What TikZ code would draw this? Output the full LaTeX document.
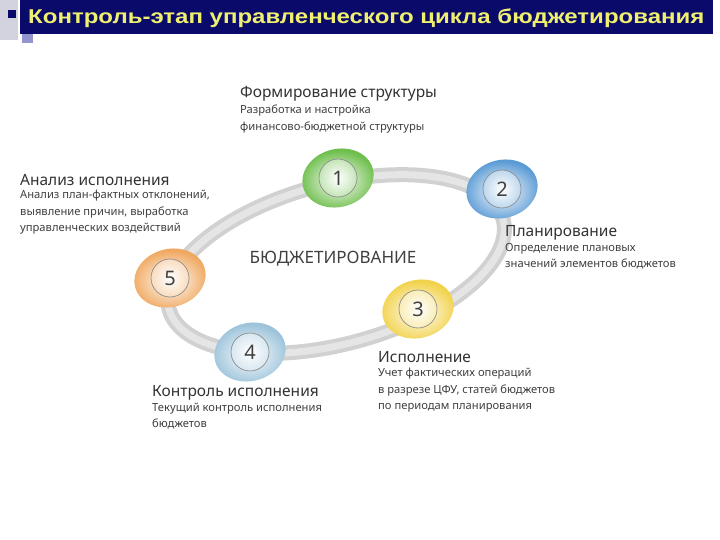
\documentclass[tikz,border=0pt]{standalone}
\usepackage{fontspec}
\setmainfont{Liberation Sans}
\newfontfamily\bodyf{Noto Sans}
\definecolor{cA}{HTML}{6DBE4B}
\definecolor{cB}{HTML}{5B9BD5}
\definecolor{cC}{HTML}{F2D24B}
\definecolor{cD}{HTML}{9CC3DA}
\definecolor{cE}{HTML}{F0A860}
\definecolor{navy}{HTML}{0A0A6A}
\definecolor{ttl}{HTML}{F0F070}
\begin{document}
\begin{tikzpicture}[x=1pt,y=-1pt,
  head/.style={anchor=west,inner sep=0,text=black!80,font=\bodyf\fontsize{15.5}{17}\selectfont},
  body/.style={anchor=north west,inner sep=0,align=left,text=black!75,font=\bodyf\fontsize{11.2}{16.5}\selectfont},
  inner/.style={circle,minimum size=38pt,draw=black!45,line width=0.7pt,font=\bodyf\fontsize{20}{20}\selectfont,text=black!75,inner sep=0}]
\useasboundingbox (0,0) rectangle (720,540);
\fill[white] (0,0) rectangle (720,540);
% title bar
\fill[blue!15!gray!30] (0,0) rectangle (18,40);
\fill[blue!40!gray!60] (22,33) rectangle (33,43);
\fill[navy] (8,10) rectangle (16,18);
\fill[navy] (20,0) rectangle (713,34);
\node[anchor=west,inner sep=0,text=ttl,font=\bfseries\fontsize{20}{20}\selectfont] (title) at (28,18) {\scalebox{1.2}[1]{Контроль-этап управленческого цикла бюджетирования}};
% ring
\draw[line width=15pt,black!18,rotate around={15:(336,264)}] (336,264) ellipse (173 and 80);
\draw[line width=7pt,black!10,rotate around={15:(336,264)}] (336,264) ellipse (173 and 80);
% blobs
\foreach \n/\x/\y/\c in {1/338/178/cA,2/502/189/cB,3/418/309/cC,4/250/352/cD,5/170/278/cE}{
  \shade[inner color=white, outer color=\c, rotate around={15:(\x,\y)}] (\x,\y) ellipse (36 and 29);
  \node[inner,shade,inner color=white,outer color=\c!40] (c\n) at (\x,\y) {\n};
}
\node[inner sep=0,text=black!75,font=\bodyf\fontsize{17}{17}\selectfont] (center) at (333,259) {БЮДЖЕТИРОВАНИЕ};
% labels
\node[head] (h1) at (240,94) {Формирование структуры};
\node[body] (b1) at (240,105) {Разработка и настройка\\финансово-бюджетной структуры};
\node[head] (h5) at (20,180) {Анализ исполнения};
\node[body] (b5) at (20,190) {Анализ план-фактных отклонений,\\выявление причин, выработка\\управленческих воздействий};
\node[head] (h2) at (505,233) {Планирование};
\node[body] (b2) at (505,243) {Определение плановых\\значений элементов бюджетов};
\node[head] (h3) at (378,357) {Исполнение};
\node[body] (b3) at (378,368) {Учет фактических операций\\в разрезе ЦФУ, статей бюджетов\\по периодам планирования};
\node[head] (h4) at (152,393) {Контроль исполнения};
\node[body] (b4) at (152,403) {Текущий контроль исполнения\\бюджетов};
\end{tikzpicture}
\end{document}
